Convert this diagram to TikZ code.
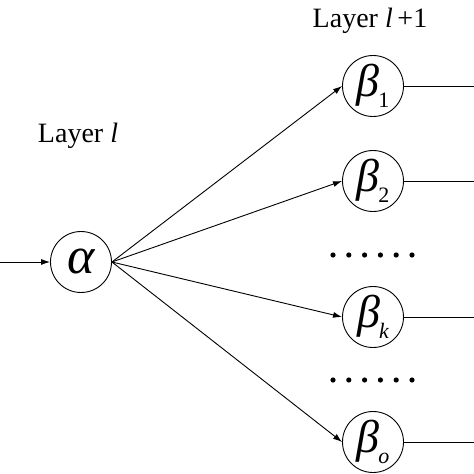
\documentclass[tikz,border=0pt]{standalone}
\usepackage{fontspec}
\setmainfont{Liberation Serif}
\usetikzlibrary{arrows.meta}
\begin{document}
\begin{tikzpicture}[x=1pt,y=-1pt,
  neuron/.style={draw,circle,line width=0.9pt,minimum size=61pt,inner sep=0pt},
  conn/.style={line width=0.9pt},
  arr/.style={conn,-{Latex[length=9pt,width=6pt]}},
  lbl/.style={font=\fontsize{28}{32}\selectfont},
  dot/.style={fill=black}]
\useasboundingbox (0,0) rectangle (474,474);
\newcommand{\grk}[1]{{\fontsize{46}{46}\selectfont\itshape #1}}
\newcommand{\sbs}[1]{{\fontsize{22}{22}\selectfont #1}}
\node[neuron] (a) at (81,262) {\raisebox{1pt}{\fontsize{52}{52}\selectfont\itshape α}};
\node[neuron] (b1) at (373,86) {\grk{β}\kern-1pt\raisebox{-11pt}{\sbs{1}}};
\node[neuron] (b2) at (373,181) {\grk{β}\kern-1pt\raisebox{-11pt}{\sbs{2}}};
\node[neuron] (bk) at (373,317) {\grk{β}\kern-1pt\raisebox{-11pt}{\sbs{\itshape k}}};
\node[neuron] (bo) at (373,442) {\grk{β}\kern-1pt\raisebox{-11pt}{\sbs{\itshape o}}};
\node[lbl] (l1) at (78,136) {Layer \textit{l}};
\node[lbl] (l2) at (370,21) {Layer \textit{l}\,+1};
\coordinate (in) at (0,262);
\coordinate (o1) at (474,86);
\coordinate (o2) at (474,181);
\coordinate (ok) at (474,317);
\coordinate (oo) at (474,442);
\draw[arr] (in) -- (a.west);
\draw[arr] (a.east) -- (b1.west);
\draw[arr] (a.east) -- (b2.west);
\draw[arr] (a.east) -- (bk.west);
\draw[arr] (a.east) -- (bo.west);
\draw[conn] (b1.east) -- (o1);
\draw[conn] (b2.east) -- (o2);
\draw[conn] (bk.east) -- (ok);
\draw[conn] (bo.east) -- (oo);
\foreach \i in {0,...,5} {
  \fill[dot] (333+15.8*\i,255) circle (2.6pt);
  \fill[dot] (333+15.8*\i,380) circle (2.6pt);
}
\end{tikzpicture}
\end{document}
